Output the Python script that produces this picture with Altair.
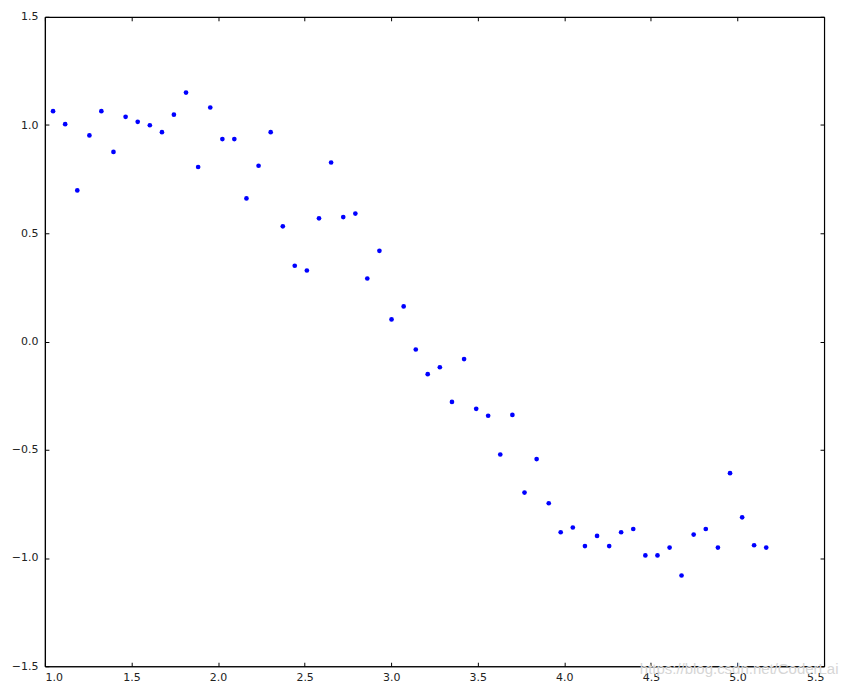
import altair as alt
import pandas as pd

x_vals = [1.047, 1.117, 1.187, 1.257, 1.326, 1.396, 1.466, 1.536, 1.606, 1.676,
          1.745, 1.815, 1.885, 1.955, 2.025, 2.094, 2.164, 2.234, 2.304, 2.374,
          2.443, 2.513, 2.583, 2.653, 2.723, 2.793, 2.862, 2.932, 3.002, 3.072,
          3.142, 3.211, 3.281, 3.351, 3.421, 3.491, 3.560, 3.630, 3.700, 3.770,
          3.840, 3.910, 3.979, 4.049, 4.119, 4.189, 4.259, 4.328, 4.398, 4.468,
          4.538, 4.608, 4.677, 4.747, 4.817, 4.887, 4.957, 5.027, 5.096, 5.166]
y_vals = [1.064, 1.004, 0.698, 0.952, 1.064, 0.876, 1.038, 1.015, 0.999, 0.967,
          1.048, 1.150, 0.806, 1.081, 0.935, 0.935, 0.661, 0.812, 0.967, 0.532,
          0.350, 0.328, 0.569, 0.827, 0.575, 0.591, 0.291, 0.419, 0.102, 0.162,
          -0.037, -0.151, -0.119, -0.279, -0.081, -0.311, -0.343, -0.522, -0.339, -0.698,
          -0.543, -0.747, -0.881, -0.859, -0.945, -0.898, -0.945, -0.881, -0.866, -0.988,
          -0.988, -0.952, -1.081, -0.892, -0.866, -0.952, -0.608, -0.812, -0.941, -0.952]
x_ticks = [1.0, 1.5, 2.0, 2.5, 3.0, 3.5, 4.0, 4.5, 5.0, 5.5]
y_ticks = [-1.5, -1.0, -0.5, 0.0, 0.5, 1.0, 1.5]

W, H = 781, 651
df = pd.DataFrame({"x": x_vals, "y": y_vals})

xs = alt.Scale(domain=[1.0, 5.5], nice=False, zero=False)
ys = alt.Scale(domain=[-1.5, 1.5], nice=False, zero=False)

font = "DejaVu Sans"
common = dict(grid=False, domainColor="black", domainWidth=1.2, tickColor="black",
              tickWidth=1, labelFont=font, labelFontSize=11, labelColor="#222")

main = alt.Chart(df).mark_circle(size=22, color="#0000FF", opacity=1).encode(
    x=alt.X("x:Q", scale=xs, title=None,
            axis=alt.Axis(values=x_ticks, format=".1f", ticks=False, labelPadding=5,
                          orient="bottom", **common)),
    y=alt.Y("y:Q", scale=ys, title=None,
            axis=alt.Axis(values=y_ticks, format=".1f", ticks=False, labelPadding=7,
                          orient="left", **common)),
)

ticks_a = alt.Chart(df).mark_circle(size=0, opacity=0).encode(
    x=alt.X("x:Q", scale=xs, title=None,
            axis=alt.Axis(values=x_ticks, labels=False, tickSize=4, orient="top",
                          offset=-H, **common)),
    y=alt.Y("y:Q", scale=ys, title=None,
            axis=alt.Axis(values=y_ticks, labels=False, tickSize=4, orient="right",
                          offset=-W, **common)),
)

ticks_b = alt.Chart(df).mark_circle(size=0, opacity=0).encode(
    x=alt.X("x:Q", scale=xs, title=None,
            axis=alt.Axis(values=x_ticks, labels=False, tickSize=4, orient="bottom",
                          offset=-H, **common)),
    y=alt.Y("y:Q", scale=ys, title=None,
            axis=alt.Axis(values=y_ticks, labels=False, tickSize=4, orient="left",
                          offset=-W, **common)),
)

chart = alt.layer(main, ticks_a, ticks_b).resolve_axis(
    x="independent", y="independent"
).properties(
    width=W, height=H,
    autosize=alt.AutoSizeParams(type="none"),
    padding={"left": 37, "top": 8, "right": 18, "bottom": 22},
    title=alt.TitleParams(text="https://blog.csdn.net/CoderLai", orient="bottom",
                          anchor="end", color="#d6d6d6", fontSize=15,
                          font="Liberation Sans", fontWeight="normal",
                          offset=-20, dx=14),
).configure_view(stroke=None)

chart.save("out.html", embed_options={"renderer": "svg", "actions": False})
